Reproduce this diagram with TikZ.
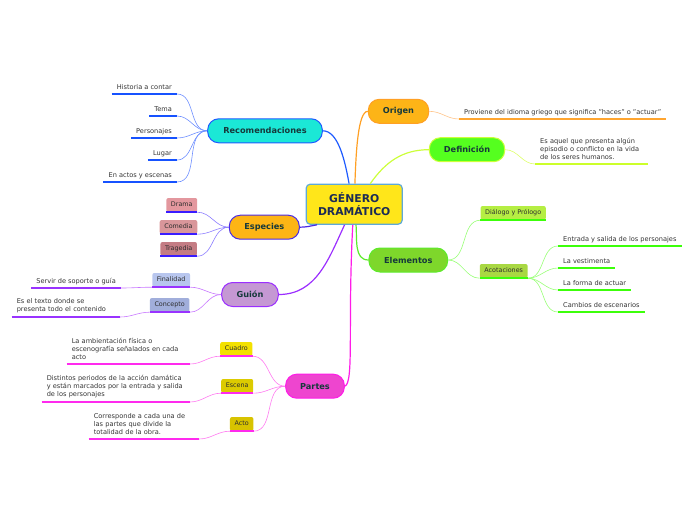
\documentclass[tikz,border=0pt]{standalone}
\usepackage{fontspec}
\setmainfont{DejaVu Sans}
\usetikzlibrary{positioning}
\definecolor{leaftext}{HTML}{333333}
\definecolor{tagtext}{HTML}{2E2E2E}
\definecolor{topictext}{HTML}{16393B}
\definecolor{centtext}{HTML}{1B2B55}
\definecolor{centfill}{HTML}{FFE61A}
\definecolor{centline}{HTML}{5EA9D8}
\definecolor{recfill}{HTML}{1BE8D6}
\definecolor{recline}{HTML}{1E5BFF}
\definecolor{rectwig}{HTML}{6E8FFF}
\definecolor{recunder}{HTML}{1652FF}
\definecolor{espfill}{HTML}{FDB515}
\definecolor{espline}{HTML}{4B2BE6}
\definecolor{esptwig}{HTML}{8C7DFF}
\definecolor{espunder}{HTML}{3A1CFF}
\definecolor{dramafill}{HTML}{E3979E}
\definecolor{comediafill}{HTML}{D9969A}
\definecolor{tragediafill}{HTML}{C47C84}
\definecolor{guifill}{HTML}{C598D3}
\definecolor{guiline}{HTML}{9B2EFF}
\definecolor{guitwig}{HTML}{C877FF}
\definecolor{guiunder}{HTML}{9933FF}
\definecolor{finalidadfill}{HTML}{B8C6EE}
\definecolor{conceptofill}{HTML}{A1AEDB}
\definecolor{parfill}{HTML}{EE45CF}
\definecolor{parline}{HTML}{FF1BE8}
\definecolor{partwig}{HTML}{FF7BF0}
\definecolor{parunder}{HTML}{FF2AEE}
\definecolor{cuadrofill}{HTML}{F3E100}
\definecolor{escenafill}{HTML}{DCCB00}
\definecolor{actofill}{HTML}{D8C300}
\definecolor{orifill}{HTML}{FDB417}
\definecolor{oriline}{HTML}{FFA024}
\definecolor{oritwig}{HTML}{FFC58A}
\definecolor{oriunder}{HTML}{FFA530}
\definecolor{deffill}{HTML}{55FF1F}
\definecolor{defline}{HTML}{CCFF3A}
\definecolor{deftwig}{HTML}{DDFF66}
\definecolor{defunder}{HTML}{CCFF2A}
\definecolor{elefill}{HTML}{7ED72B}
\definecolor{eleline}{HTML}{5CEB2A}
\definecolor{eletwig}{HTML}{99FF77}
\definecolor{eleunder}{HTML}{3CFF0A}
\definecolor{dialogofill}{HTML}{B5EE43}
\definecolor{acotfill}{HTML}{A9D843}
\newcommand{\leaffont}{\fontsize{6.6}{8}\selectfont}
\newcommand{\tagfont}{\fontsize{6.4}{8}\selectfont}
\newcommand{\topicfont}{\fontsize{8.2}{10}\selectfont\bfseries}
\newcommand{\centralfont}{\fontsize{10.8}{12.3}\selectfont\bfseries}
\newcommand{\heighttopic}{24pt}
\newcommand{\heighttag}{14pt}

\begin{document}
\begin{tikzpicture}[x=1pt, y=1pt,
		leafbase/.style={font=\leaffont, text=leaftext, inner xsep=5pt},
		leaf/.style={leafbase, inner ysep=3pt, text depth=1.5pt},
		leafpar/.style={leafbase, inner ysep=4pt, align=left, text width=#1},
		tag/.style={font=\tagfont, text=tagtext, rounded corners=2pt, inner xsep=4.6pt, inner ysep=0pt, minimum height=\heighttag, text height=4.8pt, text depth=1.4pt},
		topic/.style={draw, line width=1pt, rounded corners=11pt, minimum height=\heighttopic, font=\topicfont, text=topictext},
		central/.style={draw=centline, fill=centfill, line width=1.2pt, rounded corners=4pt, align=center, font=\centralfont, text=centtext},
		uline/.style={line width=1.8pt},
		branch/.style={line width=1.2pt},
		twig/.style={line width=0.6pt}]
		\useasboundingbox (0,0) rectangle (696,-520);
		% centre and main topics
		\node[central, minimum width=96pt, minimum height=40pt] (genero) at (354.2,-204.2) {GÉNERO\\DRAMÁTICO};
		\node[topic, fill=recfill, draw=recline, minimum width=114.6pt] (recom) at (265,-130.8) {Recomendaciones};
		\node[topic, fill=espfill, draw=espline, minimum width=70pt] (especies) at (264.3,-227.2) {Especies};
		\node[topic, fill=guifill, draw=guiline, minimum width=56.6pt] (guion) at (250,-294.5) {Guión};
		\node[topic, fill=parfill, draw=parline, minimum width=58.6pt] (partes) at (315,-386.2) {Partes};
		\node[topic, fill=orifill, draw=oriline, minimum width=60.4pt] (origen) at (398.5,-111.3) {Origen};
		\node[topic, fill=deffill, draw=defline, minimum width=75.4pt] (definicion) at (467,-149.7) {Definición};
		\node[topic, fill=elefill, draw=eleline, minimum width=78.7pt] (elementos) at (408.3,-260) {Elementos};
		% Recomendaciones
		\node[leaf, anchor=south east] (historia) at (177,-94) {Historia a contar};
		\node[leaf, anchor=south east] (tema) at (177,-116) {Tema};
		\node[leaf, anchor=south east] (personajes) at (177,-138) {Personajes};
		\node[leaf, anchor=south east] (lugar) at (177,-160) {Lugar};
		\node[leaf, anchor=south east] (actos) at (177,-182) {En actos y escenas};
		% Especies
		\node[tag, fill=dramafill] (drama) at (181.8,-205) {Drama};
		\node[tag, fill=comediafill] (comedia) at (178.5,-227) {Comedia};
		\node[tag, fill=tragediafill] (tragedia) at (178.7,-249) {Tragedia};
		% Guión
		\node[tag, fill=finalidadfill] (finalidad) at (171.2,-280) {Finalidad};
		\node[tag, fill=conceptofill] (concepto) at (169.7,-305) {Concepto};
		\node[leaf, anchor=south east] (soporte) at (121,-288) {Servir de soporte o guía};
		\node[leafpar=98pt, anchor=south east] (textodonde) at (120,-317) {Es el texto donde se\\presenta todo el contenido};
		% Partes
		\node[tag, fill=cuadrofill] (cuadro) at (236.3,-349) {Cuadro};
		\node[tag, fill=escenafill] (escena) at (237.2,-386) {Escena};
		\node[tag, fill=actofill] (acto) at (241.7,-424) {Acto};
		\node[leafpar=113pt, anchor=south east] (ambientacion) at (190,-364) {La ambientación física o\\escenografía señalados en cada\\acto};
		\node[leafpar=138pt, anchor=south east] (periodos) at (190,-402) {Distintos periodos de la acción damática\\y están marcados por la entrada y salida\\de los personajes};
		\node[leafpar=100pt, anchor=south east] (corresponde) at (199,-439) {Corresponde a cada una de\\las partes que divide la\\totalidad de la obra.};
		% Origen and Definición
		\node[leaf, anchor=south west] (proviene) at (459,-119) {Proviene del idioma griego que significa "haces" o "actuar"};
		\node[leafpar=103pt, anchor=south west] (aquel) at (535,-164) {Es aquel que presenta algún\\episodio o conflicto en la vida\\de los seres humanos.};
		% Elementos
		\node[tag, fill=dialogofill] (dialogo) at (513.2,-213) {Diálogo y Prólogo};
		\node[tag, fill=acotfill] (acotaciones) at (503.7,-271) {Acotaciones};
		\node[leaf, anchor=south west] (entrada) at (558,-246) {Entrada y salida de los personajes};
		\node[leaf, anchor=south west] (vestimenta) at (558,-268) {La vestimenta};
		\node[leaf, anchor=south west] (forma) at (558,-290) {La forma de actuar};
		\node[leaf, anchor=south west] (cambios) at (558,-312) {Cambios de escenarios};
		% main branches
		\path[branch]
			(genero.104) edge [recline, out=100, in=0, out distance=25pt, in distance=15pt] (recom.east)
			(genero.88) edge [oriline, out=88, in=180, out distance=30pt, in distance=10pt] (origen.west)
			(genero.52) edge [defline, out=55, in=180] (definicion.west)
			(genero.-85) edge [eleline, out=-85, in=180] (elementos.west)
			(genero.-94) edge [parline, out=-93, in=20, out distance=100pt, in distance=10pt] (partes.east)
			(genero.245) edge [guiline, out=-115, in=0] (guion.east)
			(genero.209) edge [espline, out=190, in=0] (especies.east)
		;
		% twigs
		\path[twig, rectwig]
			(recom.west) edge [out=180, in=0] (historia.south east)
			(recom.west) edge [out=180, in=0] (tema.south east)
			(recom.west) edge [out=180, in=0] (personajes.south east)
			(recom.west) edge [out=180, in=0] (lugar.south east)
			(recom.west) edge [out=180, in=0] (actos.south east)
		;
		\path[twig, esptwig]
			(especies.west) edge [out=180, in=0] (drama.south east)
			(especies.west) edge [out=180, in=0] (comedia.south east)
			(especies.west) edge [out=180, in=0] (tragedia.south east)
		;
		\path[twig, guitwig]
			(guion.west) edge [out=180, in=0] (finalidad.south east)
			(guion.west) edge [out=180, in=0] (concepto.south east)
			(finalidad.south west) edge [out=180, in=0] (soporte.south east)
			(concepto.south west) edge [out=180, in=0] (textodonde.south east)
		;
		\path[twig, partwig]
			(partes.west) edge [out=180, in=0] (cuadro.south east)
			(partes.west) edge [out=180, in=0] (escena.south east)
			(partes.west) edge [out=180, in=0] (acto.south east)
			(cuadro.south west) edge [out=180, in=0] (ambientacion.south east)
			(escena.south west) edge [out=180, in=0] (periodos.south east)
			(acto.south west) edge [out=180, in=0] (corresponde.south east)
		;
		\path[twig]
			(origen.east) edge [oritwig, out=0, in=180] (proviene.south west)
			(definicion.east) edge [deftwig, out=0, in=180] (aquel.south west)
		;
		\path[twig, eletwig]
			(elementos.east) edge [out=0, in=180] (dialogo.south west)
			(elementos.east) edge [out=0, in=180] (acotaciones.south west)
			(acotaciones.south east) edge [out=0, in=180] (entrada.south west)
			(acotaciones.south east) edge [out=0, in=180] (vestimenta.south west)
			(acotaciones.south east) edge [out=0, in=180] (forma.south west)
			(acotaciones.south east) edge [out=0, in=180] (cambios.south west)
		;
		% underlines
		\path[uline, recunder]
			(historia.south west) edge (historia.south east)
			(tema.south west) edge (tema.south east)
			(personajes.south west) edge (personajes.south east)
			(lugar.south west) edge (lugar.south east)
			(actos.south west) edge (actos.south east)
		;
		\path[uline, espunder]
			(drama.south west) edge (drama.south east)
			(comedia.south west) edge (comedia.south east)
			(tragedia.south west) edge (tragedia.south east)
		;
		\path[uline, guiunder]
			(finalidad.south west) edge (finalidad.south east)
			(concepto.south west) edge (concepto.south east)
			(soporte.south west) edge (soporte.south east)
			(textodonde.south west) edge (textodonde.south east)
		;
		\path[uline, parunder]
			(cuadro.south west) edge (cuadro.south east)
			(escena.south west) edge (escena.south east)
			(acto.south west) edge (acto.south east)
			(ambientacion.south west) edge (ambientacion.south east)
			(periodos.south west) edge (periodos.south east)
			(corresponde.south west) edge (corresponde.south east)
		;
		\path[uline]
			(proviene.south west) edge [oriunder] (proviene.south east)
			(aquel.south west) edge [defunder] (aquel.south east)
		;
		\path[uline, eleunder]
			(dialogo.south west) edge (dialogo.south east)
			(acotaciones.south west) edge (acotaciones.south east)
			(entrada.south west) edge (entrada.south east)
			(vestimenta.south west) edge (vestimenta.south east)
			(forma.south west) edge (forma.south east)
			(cambios.south west) edge (cambios.south east)
		;
	\end{tikzpicture}
\end{document}
